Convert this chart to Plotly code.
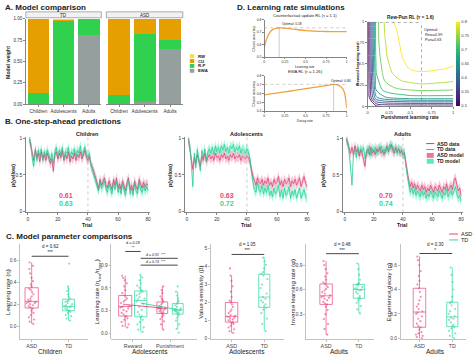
import numpy as np
import plotly.graph_objects as go

W, H = 474, 356
FONT = "Liberation Sans, Arial, sans-serif"
INK = "#222222"
ASD_LINE = "#D63A6E"
TD_LINE = "#22C994"
ASD_BAND = "rgba(242,110,155,0.40)"
TD_BAND = "rgba(70,235,180,0.45)"
ASD_PT = "#E8467C"
TD_PT = "#2ED6A0"

# ---------------- A. Model comparison ----------------
age_groups = ["Children", "Adolescents", "Adults"]
model_names = ["RW", "CU", "R-P", "EWA"]
td_rw = [0.000, 0.010, 0.000]
td_cu = [0.870, 0.015, 0.000]
td_rp = [0.130, 0.975, 0.190]
td_ewa = [0.000, 0.000, 0.810]
asd_rw = [0.000, 0.000, 0.006]
asd_cu = [0.894, 0.175, 0.245]
asd_rp = [0.106, 0.798, 0.103]
asd_ewa = [0.000, 0.027, 0.646]
model_colors = ["#F1DF45", "#E69F00", "#2FD14E", "#95A09E"]

# ---------------- D. Learning rate simulations ----------------
cf_learning_rate = [0, 0.025, 0.05, 0.075, 0.1, 0.14, 0.18, 0.25, 0.3, 0.4, 0.5, 0.6, 0.7, 0.8, 0.9, 1.0]
cf_accuracy = [0.585, 0.64, 0.68, 0.705, 0.72, 0.731, 0.735, 0.733, 0.729, 0.72, 0.712, 0.708, 0.706, 0.705, 0.704, 0.704]
ewa_decay = [0, 0.1, 0.2, 0.3, 0.4, 0.5, 0.6, 0.7, 0.8, 0.84, 0.9, 0.95, 0.975, 1.0]
ewa_accuracy = [0.583, 0.597, 0.611, 0.625, 0.640, 0.654, 0.668, 0.682, 0.697, 0.703, 0.692, 0.655, 0.600, 0.430]
grid_lr = [0.0, 0.1, 0.2, 0.3, 0.4, 0.5, 0.6, 0.7, 0.8, 0.9, 1.0]
rewpun_accuracy = [
    [0.50, 0.52, 0.53, 0.53, 0.53, 0.53, 0.53, 0.53, 0.53, 0.53, 0.53],
    [0.50, 0.62, 0.645, 0.655, 0.66, 0.665, 0.665, 0.665, 0.665, 0.665, 0.665],
    [0.50, 0.655, 0.685, 0.695, 0.70, 0.703, 0.706, 0.706, 0.705, 0.704, 0.703],
    [0.50, 0.665, 0.70, 0.715, 0.725, 0.73, 0.735, 0.735, 0.732, 0.73, 0.727],
    [0.50, 0.675, 0.71, 0.728, 0.74, 0.748, 0.749, 0.749, 0.748, 0.748, 0.747],
    [0.50, 0.68, 0.715, 0.735, 0.747, 0.754, 0.757, 0.757, 0.755, 0.753, 0.751],
    [0.50, 0.685, 0.72, 0.74, 0.75, 0.758, 0.762, 0.762, 0.76, 0.757, 0.754],
    [0.50, 0.688, 0.722, 0.742, 0.752, 0.76, 0.765, 0.765, 0.763, 0.76, 0.756],
    [0.50, 0.69, 0.724, 0.744, 0.754, 0.762, 0.767, 0.767, 0.765, 0.762, 0.758],
    [0.50, 0.69, 0.726, 0.746, 0.756, 0.764, 0.769, 0.769, 0.767, 0.763, 0.759],
    [0.50, 0.69, 0.728, 0.75, 0.758, 0.766, 0.771, 0.77, 0.768, 0.764, 0.76],
]
cbar_ticks = [0.5, 0.55, 0.6, 0.65, 0.7, 0.75, 0.8]

# ---------------- B. One-step-ahead predictions ----------------
trials = list(range(1, 81))
children_asd = [
    1.00, 0.90, 0.78, 0.70, 0.84, 0.74, 0.80, 0.68, 0.82, 0.72,
    0.78, 0.70, 0.80, 0.74, 0.66, 0.72, 0.55, 0.78, 0.82, 0.72,
    0.80, 0.74, 0.84, 0.70, 0.78, 0.72, 0.82, 0.68, 0.76, 0.72,
    0.80, 0.70, 0.78, 0.74, 0.82, 0.72, 0.78, 0.84, 0.74, 0.70,
    0.76, 0.64, 0.60, 0.54, 0.46, 0.40, 0.30, 0.44, 0.36, 0.40,
    0.46, 0.36, 0.32, 0.42, 0.36, 0.30, 0.44, 0.36, 0.46, 0.32,
    0.38, 0.30, 0.42, 0.34, 0.28, 0.40, 0.46, 0.30, 0.36, 0.28,
    0.42, 0.34, 0.30, 0.44, 0.36, 0.32, 0.40, 0.34, 0.38, 0.36]
children_td = [
    1.00, 0.94, 0.72, 0.62, 0.86, 0.70, 0.84, 0.76, 0.86, 0.70,
    0.82, 0.76, 0.84, 0.78, 0.70, 0.80, 0.66, 0.82, 0.88, 0.74,
    0.84, 0.78, 0.88, 0.72, 0.82, 0.80, 0.88, 0.74, 0.82, 0.78,
    0.86, 0.76, 0.84, 0.80, 0.90, 0.76, 0.84, 0.88, 0.78, 0.74,
    0.80, 0.62, 0.58, 0.50, 0.42, 0.36, 0.28, 0.40, 0.32, 0.36,
    0.42, 0.30, 0.26, 0.38, 0.30, 0.24, 0.40, 0.30, 0.42, 0.26,
    0.34, 0.24, 0.38, 0.28, 0.22, 0.36, 0.42, 0.24, 0.32, 0.22,
    0.38, 0.28, 0.24, 0.40, 0.30, 0.26, 0.36, 0.28, 0.34, 0.28]
adolescents_asd = [
    1.00, 0.88, 0.72, 0.58, 0.74, 0.66, 0.78, 0.70, 0.62, 0.76,
    0.70, 0.80, 0.68, 0.74, 0.78, 0.72, 0.76, 0.70, 0.80, 0.74,
    0.76, 0.70, 0.78, 0.74, 0.80, 0.72, 0.76, 0.70, 0.78, 0.74,
    0.80, 0.72, 0.76, 0.74, 0.78, 0.70, 0.76, 0.74, 0.72, 0.76,
    0.74, 0.68, 0.56, 0.48, 0.42, 0.36, 0.46, 0.40, 0.38, 0.44,
    0.36, 0.42, 0.38, 0.46, 0.36, 0.40, 0.34, 0.44, 0.38, 0.40,
    0.48, 0.36, 0.42, 0.34, 0.44, 0.38, 0.40, 0.46, 0.34, 0.42,
    0.38, 0.44, 0.36, 0.40, 0.46, 0.34, 0.42, 0.48, 0.38, 0.34]
adolescents_td = [
    1.00, 0.92, 0.68, 0.34, 0.80, 0.60, 0.86, 0.72, 0.56, 0.84,
    0.74, 0.86, 0.70, 0.82, 0.86, 0.80, 0.88, 0.78, 0.90, 0.82,
    0.88, 0.80, 0.90, 0.84, 0.92, 0.82, 0.88, 0.80, 0.90, 0.86,
    0.92, 0.82, 0.88, 0.84, 0.90, 0.80, 0.86, 0.84, 0.80, 0.86,
    0.82, 0.72, 0.52, 0.40, 0.30, 0.26, 0.40, 0.30, 0.26, 0.36,
    0.24, 0.32, 0.26, 0.36, 0.22, 0.28, 0.20, 0.32, 0.24, 0.28,
    0.36, 0.20, 0.30, 0.18, 0.32, 0.22, 0.26, 0.34, 0.18, 0.28,
    0.22, 0.30, 0.18, 0.26, 0.32, 0.18, 0.26, 0.30, 0.20, 0.18]
adults_asd = [
    1.00, 0.94, 0.86, 0.80, 0.88, 0.78, 0.90, 0.82, 0.86, 0.76,
    0.84, 0.80, 0.70, 0.62, 0.82, 0.86, 0.78, 0.88, 0.80, 0.84,
    0.78, 0.86, 0.82, 0.88, 0.80, 0.84, 0.78, 0.86, 0.90, 0.82,
    0.86, 0.92, 0.84, 0.80, 0.88, 0.82, 0.86, 0.80, 0.84, 0.78,
    0.80, 0.66, 0.52, 0.42, 0.34, 0.40, 0.32, 0.38, 0.30, 0.36,
    0.32, 0.28, 0.36, 0.30, 0.34, 0.26, 0.32, 0.28, 0.36, 0.30,
    0.26, 0.34, 0.30, 0.28, 0.36, 0.32, 0.26, 0.34, 0.30, 0.38,
    0.28, 0.32, 0.36, 0.30, 0.42, 0.46, 0.34, 0.28, 0.32, 0.22]
adults_td = [
    1.00, 0.96, 0.84, 0.62, 0.36, 0.80, 0.86, 0.74, 0.88, 0.80,
    0.86, 0.82, 0.88, 0.72, 0.84, 0.80, 0.90, 0.76, 0.86, 0.82,
    0.88, 0.80, 0.86, 0.84, 0.90, 0.82, 0.86, 0.80, 0.88, 0.84,
    0.92, 0.86, 0.90, 0.82, 0.88, 0.80, 0.86, 0.82, 0.84, 0.78,
    0.82, 0.62, 0.48, 0.34, 0.26, 0.32, 0.24, 0.30, 0.22, 0.28,
    0.24, 0.20, 0.28, 0.22, 0.26, 0.18, 0.24, 0.20, 0.28, 0.22,
    0.18, 0.26, 0.22, 0.20, 0.28, 0.24, 0.18, 0.26, 0.22, 0.30,
    0.20, 0.24, 0.28, 0.22, 0.30, 0.34, 0.24, 0.18, 0.22, 0.14]
fit_asd = ["0.61", "0.63", "0.70"]
fit_td = ["0.63", "0.72", "0.74"]
model_band_halfwidth = 0.07

# ---------------- C. Model parameter comparisons ----------------
lr_children_asd = [0.02, 0.04, 0.06, 0.08, 0.10, 0.12, 0.14, 0.16, 0.17, 0.18, 0.19, 0.20, 0.21, 0.21, 0.22, 0.22,
                   0.23, 0.24, 0.25, 0.27, 0.29, 0.31, 0.33, 0.34, 0.36, 0.38, 0.41, 0.44, 0.48, 0.52, 0.55, 0.58]
lr_children_td = [0.05, 0.07, 0.09, 0.10, 0.12, 0.13, 0.14, 0.14, 0.15, 0.16, 0.17, 0.17, 0.18, 0.18, 0.19, 0.20,
                  0.21, 0.22, 0.23, 0.23, 0.25, 0.27, 0.29, 0.32, 0.34, 0.36, 0.57]
lr_reward_asd = [0.08, 0.10, 0.12, 0.15, 0.18, 0.20, 0.22, 0.23, 0.25, 0.27, 0.29, 0.31, 0.33, 0.34, 0.35, 0.36,
                 0.38, 0.40, 0.42, 0.44, 0.46, 0.48, 0.50, 0.53, 0.57, 0.62, 0.66, 0.70, 0.73, 0.76]
lr_reward_td = [0.02, 0.05, 0.08, 0.12, 0.15, 0.18, 0.21, 0.23, 0.25, 0.28, 0.31, 0.35, 0.39, 0.42, 0.45, 0.46,
                0.48, 0.50, 0.52, 0.54, 0.55, 0.57, 0.60, 0.63, 0.66, 0.70, 0.74, 0.77]
lr_pun_asd = [0.05, 0.12, 0.16, 0.19, 0.22, 0.24, 0.26, 0.27, 0.28, 0.29, 0.30, 0.31, 0.32, 0.33, 0.33, 0.34,
              0.35, 0.36, 0.38, 0.40, 0.42, 0.44, 0.46, 0.49, 0.53, 0.57, 0.62]
lr_pun_td = [0.01, 0.06, 0.12, 0.17, 0.21, 0.24, 0.26, 0.27, 0.28, 0.29, 0.30, 0.30, 0.31, 0.31, 0.32, 0.33,
             0.35, 0.37, 0.39, 0.41, 0.43, 0.46, 0.50, 0.55, 0.62]
beta_adol_asd = [0.30, 0.40, 0.50, 0.60, 0.70, 0.80, 0.85, 0.90, 0.95, 1.00, 1.05, 1.10, 1.15, 1.20, 1.20, 1.25,
                 1.30, 1.40, 1.50, 1.60, 1.75, 1.90, 2.00, 2.10, 2.30, 2.60, 2.90, 3.20, 3.50, 3.90]
beta_adol_td = [0.40, 0.80, 1.10, 1.40, 1.60, 1.70, 1.80, 1.90, 2.00, 2.10, 2.20, 2.30, 2.50, 2.80, 3.00, 3.30,
                3.50, 3.60, 3.70, 3.90, 4.10, 4.30, 4.50]
phi_adult_asd = [0.05, 0.12, 0.18, 0.24, 0.30, 0.35, 0.39, 0.42, 0.43, 0.45, 0.47, 0.49, 0.50, 0.51, 0.52, 0.53,
                 0.55, 0.57, 0.59, 0.61, 0.63, 0.65, 0.67, 0.69, 0.72, 0.76, 0.80, 0.85, 0.90, 0.95]
phi_adult_td = [0.31, 0.36, 0.40, 0.44, 0.47, 0.49, 0.50, 0.52, 0.55, 0.57, 0.59, 0.60, 0.60, 0.61, 0.62, 0.63,
                0.65, 0.66, 0.67, 0.68, 0.72, 0.78, 0.85, 0.92]
rho_adult_asd = [0.00, 0.01, 0.02, 0.03, 0.04, 0.05, 0.07, 0.09, 0.10, 0.12, 0.14, 0.16, 0.18, 0.20, 0.21, 0.22,
                 0.24, 0.26, 0.28, 0.31, 0.34, 0.38, 0.41, 0.44, 0.47, 0.51, 0.55, 0.60, 0.64, 0.67]
rho_adult_td = [0.00, 0.02, 0.04, 0.06, 0.08, 0.09, 0.10, 0.11, 0.13, 0.15, 0.16, 0.17, 0.18, 0.20, 0.22, 0.24,
                0.27, 0.29, 0.30, 0.34, 0.40, 0.46, 0.52, 0.58]
effect_sizes = ["d = 0.62", "d = 0.28", "d = 0.92", "d = 0.74", "d = 1.05", "d = 0.48", "d = 0.30"]
significance = ["***", "**", "***", "***", "***", "***", "*"]

# ================= figure =================
fig = go.Figure()
axes = {}
shapes = []
annotations = []


def ref(i, c):
    return c if i == 1 else f"{c}{i}"


def key(i, c):
    return f"{c}axis" if i == 1 else f"{c}axis{i}"


def base_axis(col="#333333"):
    return dict(showgrid=False, zeroline=False, showline=True, linecolor=col, linewidth=0.6,
                ticks="outside", ticklen=2, tickwidth=0.6, tickcolor=col,
                tickfont=dict(size=5, color="#333333", family=FONT), fixedrange=True, tickangle=0)


def make_axes(i, l, r, t, b, xo=None, yo=None, col="#333333"):
    xd = base_axis(col)
    xd.update(domain=[l / W, r / W], anchor=ref(i, "y"))
    yd = base_axis(col)
    yd.update(domain=[1 - b / H, 1 - t / H], anchor=ref(i, "x"))
    if xo:
        xd.update(xo)
    if yo:
        yd.update(yo)
    axes[key(i, "x")] = xd
    axes[key(i, "y")] = yd


def ann(x, y, text, size=5, bold=False, color=INK, xanchor="center", yanchor="middle",
        angle=0, xref="paper", yref="paper", align="center"):
    if xref == "paper":
        x = x / W
    if yref == "paper":
        y = 1 - y / H
    t = f"<b>{text}</b>" if bold else text
    annotations.append(dict(x=x, y=y, xref=xref, yref=yref, text=t, showarrow=False,
                            font=dict(size=size, color=color, family=FONT), xanchor=xanchor,
                            yanchor=yanchor, textangle=angle, align=align, borderpad=0))


def rect_px(x0, y0, x1, y1, fill, line="rgba(0,0,0,0)", lw=0):
    shapes.append(dict(type="rect", xref="paper", yref="paper", x0=x0 / W, x1=x1 / W,
                       y0=1 - y1 / H, y1=1 - y0 / H, fillcolor=fill, line=dict(color=line, width=lw)))


def line_px(x0, y0, x1, y1, color, lw=1.0):
    shapes.append(dict(type="line", xref="paper", yref="paper", x0=x0 / W, x1=x1 / W,
                       y0=1 - y0 / H, y1=1 - y1 / H, line=dict(color=color, width=lw)))


# ----- Panel A -----
cat_x = dict(type="category", categoryorder="array", categoryarray=age_groups, range=[-0.5, 2.5],
             tickfont=dict(size=4.8, color="#333", family=FONT))
make_axes(1, 25, 101, 16, 103, xo=cat_x,
          yo=dict(range=[0, 1], tickvals=[0, 0.25, 0.5, 0.75, 1],
                  ticktext=["0.00", "0.25", "0.50", "0.75", "1.00"], tickfont=dict(size=4.5, color="#333")))
make_axes(2, 106, 183, 16, 103, xo=cat_x,
          yo=dict(range=[0, 1], showticklabels=False, showline=False, ticks=""))
td_sets = [td_ewa, td_rp, td_cu, td_rw]
asd_sets = [asd_ewa, asd_rp, asd_cu, asd_rw]
stack_names = ["EWA", "R-P", "CU", "RW"]
stack_cols = [model_colors[3], model_colors[2], model_colors[1], model_colors[0]]
for i, sets in ((1, td_sets), (2, asd_sets)):
    for name, vals, col in zip(stack_names, sets, stack_cols):
        fig.add_trace(go.Bar(x=age_groups, y=vals, name=name, marker=dict(color=col, line=dict(width=0)),
                             width=0.86, xaxis=ref(i, "x"), yaxis=ref(i, "y"), showlegend=False,
                             hoverinfo="skip"))
rect_px(25, 9, 101, 15, "#F2F2F2", "#7A7A7A", 0.6)
rect_px(106, 9, 183, 15, "#F2F2F2", "#7A7A7A", 0.6)
ann(63, 12.3, "TD", 4.5)
ann(144.5, 12.3, "ASD", 4.5)
ann(7, 60, "Model weight", 5.2, bold=True, angle=-90)
for k, (name, col) in enumerate(zip(model_names, model_colors)):
    yc = 54 + 5 * k
    rect_px(190, yc - 2, 194.5, yc + 2, col)
    ann(197, yc, name, 4.3, bold=True, xanchor="left")
ann(3, 4.5, "A. Model comparison", 8, bold=True, xanchor="left")

# ----- Panel D -----
lr_ticks = dict(range=[0, 1], tickvals=[0, 0.25, 0.5, 0.75, 1], ticktext=["0", "0.25", "0.5", "0.75", "1"],
                tickfont=dict(size=3.5, color="#333"), ticklen=1.5)
make_axes(3, 265, 348, 17, 55, xo=lr_ticks,
          yo=dict(range=[0.5, 0.8], tickvals=[0.5, 0.6, 0.7, 0.8], tickfont=dict(size=3.5, color="#333"), ticklen=1.5))
make_axes(4, 265, 348, 74, 110, xo=lr_ticks,
          yo=dict(range=[0.4, 0.8], tickvals=[0.4, 0.5, 0.6, 0.7, 0.8], tickfont=dict(size=3.5, color="#333"), ticklen=1.5))
for i, xs, ys in ((3, cf_learning_rate, cf_accuracy), (4, ewa_decay, ewa_accuracy)):
    j = int(np.argmax(ys))
    shapes.append(dict(type="line", xref=ref(i, "x"), yref=ref(i, "y"), x0=0, x1=1, y0=ys[j], y1=ys[j],
                       line=dict(color="#999", width=0.5, dash="dot")))
    shapes.append(dict(type="line", xref=ref(i, "x"), yref=ref(i, "y"), x0=xs[j], x1=xs[j],
                       y0=(0.5 if i == 3 else 0.4), y1=ys[j], line=dict(color="#999", width=0.5)))
    fig.add_trace(go.Scatter(x=xs, y=ys, mode="lines", line=dict(color="#F2A13B", width=1.3, shape="spline",
                             smoothing=0.6), xaxis=ref(i, "x"), yaxis=ref(i, "y"), showlegend=False,
                             hoverinfo="skip"))
ann(0.2, 0.742, "Optimal: 0.18", 3.3, xanchor="left", yanchor="bottom", xref="x3", yref="y3")
ann(0.8, 0.71, "Optimal: 0.84", 3.3, xanchor="left", yanchor="bottom", xref="x4", yref="y4")
ann(306, 12.5, "Counterfactual update RL (τ = 1.1)", 4.2)
ann(306, 70, "EWA RL (τ = 1.26)", 4.2)
ann(306, 64.8, "Learning rate", 3.3)
ann(306, 120.5, "Decay rate", 3.3)
ann(255, 36, "Choice accuracy", 3.5, angle=-90)
ann(255, 92, "Choice accuracy", 3.5, angle=-90)

make_axes(5, 369, 455, 19, 105,
          xo=dict(range=[0, 1], tickvals=[0, 0.25, 0.5, 0.75, 1], ticktext=["0", "0.25", "0.5", "0.75", "1"],
                  tickfont=dict(size=4, color="#333")),
          yo=dict(range=[0, 1], tickvals=[0, 0.25, 0.5, 0.75, 1], ticktext=["0", "0.25", "0.5", "0.75", "1"],
                  tickfont=dict(size=4, color="#333")))
fig.add_trace(go.Contour(x=grid_lr, y=grid_lr, z=rewpun_accuracy, autocontour=False,
                         contours=dict(coloring="lines", start=0.525, end=0.75, size=0.025),
                         line=dict(width=0.9), colorscale="Viridis", zmin=0.5, zmax=0.8,
                         showscale=False, xaxis="x5", yaxis="y5", hoverinfo="skip"))
fig.add_trace(go.Scatter(x=[None], y=[None], mode="markers", xaxis="x5", yaxis="y5", showlegend=False,
                         marker=dict(color=[0.5], cmin=0.5, cmax=0.8, colorscale="Viridis", showscale=True,
                                     colorbar=dict(x=458 / W, xanchor="left", y=1 - 62 / H, yanchor="middle",
                                                   lenmode="pixels", len=84, thickness=4, outlinewidth=0,
                                                   tickvals=cbar_ticks, ticktext=[str(t) for t in cbar_ticks],
                                                   tickfont=dict(size=4, color="#333"), ticks="", xpad=0,
                                                   ypad=0)),
                         hoverinfo="skip"))
shapes.append(dict(type="line", xref="x5", yref="y5", x0=0.63, x1=0.63, y0=0, y1=1,
                   line=dict(color="#777", width=0.6, dash="dot")))
shapes.append(dict(type="line", xref="x5", yref="y5", x0=0, x1=0.63, y0=0.99, y1=0.99,
                   line=dict(color="#777", width=0.6, dash="dot")))
ann(0.65, 0.94, "Optimal:<br> Rew=0.99<br> Pun=0.63", 3.8, xanchor="left", yanchor="top", xref="x5",
    yref="y5", align="left")
ann(412, 15, "Rew-Pun RL (τ = 1.6)", 4.8, bold=True)
ann(412, 116, "Punishment learning rate", 4.8, bold=True)
ann(359, 62, "Reward learning rate", 4.3, bold=True, angle=-90)
ann(236, 5, "D. Learning rate simulations", 8, bold=True, xanchor="left")

# ----- Panel B -----
b_panels = [(6, 25, 150, children_asd, children_td, "Children", 12, 65),
            (7, 185, 310, adolescents_asd, adolescents_td, "Adolescents", 170, 227),
            (8, 344, 465, adults_asd, adults_td, "Adults", 324, 387)]
for k, (i, l, r, asd, td, title, ytx, numx) in enumerate(b_panels):
    make_axes(i, l, r, 136, 213,
              xo=dict(range=[-1.3, 81.3], tickvals=[0, 20, 40, 60, 80], tickfont=dict(size=4.8, color="#333")),
              yo=dict(range=[-0.015, 1.027], tickvals=[0, 0.5, 1], ticktext=["0", "0.5", "1"],
                      tickfont=dict(size=4.8, color="#333")))
    shapes.append(dict(type="line", xref=ref(i, "x"), yref=ref(i, "y") + " domain", x0=40, x1=40, y0=0, y1=1,
                       line=dict(color="#AAAAAA", width=0.6, dash="dot")))
    for vals, band in ((asd, ASD_BAND), (td, TD_BAND)):
        up = [v + model_band_halfwidth for v in vals]
        lo = [v - model_band_halfwidth for v in vals]
        fig.add_trace(go.Scatter(x=trials + trials[::-1], y=up + lo[::-1], fill="toself", fillcolor=band,
                                 mode="lines", line=dict(width=0), xaxis=ref(i, "x"), yaxis=ref(i, "y"),
                                 showlegend=False, hoverinfo="skip"))
    for vals, col in ((asd, ASD_LINE), (td, TD_LINE)):
        fig.add_trace(go.Scatter(x=trials, y=vals, mode="lines", line=dict(color=col, width=0.7),
                                 xaxis=ref(i, "x"), yaxis=ref(i, "y"), showlegend=False, hoverinfo="skip"))
    cx = (l + r) / 2
    ann(cx, 133.5, title, 5.5, bold=True)
    ann(cx, 225.5, "Trial", 5.0, bold=True)
    ann(ytx, 175, "p(yellow)", 5.3, bold=True, angle=-90)
    ann(numx, 196, fit_asd[k], 7, bold=True, color=ASD_PT)
    ann(numx, 204, fit_td[k], 7, bold=True, color=TD_PT)
legend_b = [("ASD data", "line", ASD_LINE), ("TD data", "line", TD_LINE),
            ("ASD model", "box", "rgba(242,90,140,0.85)"), ("TD model", "box", "rgba(60,230,175,0.85)")]
for k, (lab, kind, col) in enumerate(legend_b):
    yc = 143 + 6 * k
    if kind == "line":
        line_px(428, yc, 436, yc, col, 1.0)
    else:
        rect_px(428.5, yc - 2.5, 435.5, yc + 2.5, col)
    ann(438, yc, lab, 5, bold=True, xanchor="left")
ann(3, 120.5, "B. One-step-ahead predictions", 8, bold=True, xanchor="left")

# ----- Panel C -----
GRAY = "#9A9A9A"
C_TOP, C_BOT = 245, 342


def c_axes(i, l, r, xr, yr, yt, ytt, xt, xtt):
    make_axes(i, l, r, C_TOP, C_BOT,
              xo=dict(range=xr, tickvals=xt, ticktext=xtt, tickfont=dict(size=5.3, color="#444")),
              yo=dict(range=yr, tickvals=yt, ticktext=ytt, tickfont=dict(size=4.8, color="#444")),
              col=GRAY)


def add_box(i, pos, vals, col, width):
    fig.add_trace(go.Box(x=[pos] * len(vals), y=vals, width=width, boxpoints="all", jitter=0.75, pointpos=0,
                         whiskerwidth=0, marker=dict(color=col, size=2.2, opacity=0.6),
                         line=dict(color=col, width=0.7), fillcolor="rgba(255,255,255,0)",
                         xaxis=ref(i, "x"), yaxis=ref(i, "y"), showlegend=False, hoverinfo="skip"))


def bracket(i, x0, x1, y, d, s, size=4.5, sep="<br>", tx=None):
    shapes.append(dict(type="line", xref=ref(i, "x"), yref=ref(i, "y"), x0=x0, x1=x1, y0=y, y1=y,
                       line=dict(color="#333", width=0.9)))
    ann((x0 + x1) / 2 if tx is None else tx, y, f"{d}{sep}{s}", size, xanchor="center", yanchor="bottom",
        xref=ref(i, "x"), yref=ref(i, "y"))


c_axes(9, 19, 88, [-0.32, 1.54], [-0.12, 0.75], [0, 0.2, 0.4, 0.6], ["0.0", "0.2", "0.4", "0.6"],
       [0, 1], ["ASD", "TD"])
add_box(9, 0, lr_children_asd, ASD_PT, 0.36)
add_box(9, 1, lr_children_td, TD_PT, 0.32)
bracket(9, 0, 1, 0.637, effect_sizes[0], significance[0])

c_axes(10, 111, 197, [-0.9, 4.63], [-0.076, 1.18], [0, 0.3, 0.6, 0.9], ["0.0", "0.3", "0.6", "0.9"],
       [0.5, 2.9], ["Reward", "Punishment"])
add_box(10, 0, lr_reward_asd, ASD_PT, 0.85)
add_box(10, 1, lr_reward_td, TD_PT, 0.8)
add_box(10, 2.4, lr_pun_asd, ASD_PT, 0.7)
add_box(10, 3.4, lr_pun_td, TD_PT, 0.7)
fig.add_trace(go.Scatter(x=[0, 2.4], y=[float(np.mean(lr_reward_asd)), float(np.mean(lr_pun_asd))],
                         mode="lines", line=dict(color=ASD_PT, width=0.9), xaxis="x10", yaxis="y10",
                         showlegend=False, hoverinfo="skip"))
fig.add_trace(go.Scatter(x=[1, 3.4], y=[float(np.mean(lr_reward_td)), float(np.mean(lr_pun_td))],
                         mode="lines", line=dict(color=TD_PT, width=0.9), xaxis="x10", yaxis="y10",
                         showlegend=False, hoverinfo="skip"))
bracket(10, 0, 1, 1.08, effect_sizes[1], significance[1], 3.8)
bracket(10, 1, 3.4, 0.99, effect_sizes[2], significance[2], 3.6, sep="  ", tx=2.0)
bracket(10, 1, 3.4, 0.90, effect_sizes[3], significance[3], 3.6, sep="  ", tx=2.0)

c_axes(11, 211, 285, [-0.64, 1.61], [-0.054, 5.27], [0, 1, 2, 3, 4, 5], ["0", "1", "2", "3", "4", "5"],
       [0, 1], ["ASD", "TD"])
add_box(11, 0, beta_adol_asd, ASD_PT, 0.38)
add_box(11, 1, beta_adol_td, TD_PT, 0.34)
bracket(11, 0, 1, 4.68, effect_sizes[4], significance[4])

c_axes(12, 307, 375, [-0.61, 1.45], [-0.006, 1.16], [0.3, 0.6, 0.9], ["0.3", "0.6", "0.9"],
       [0, 1], ["ASD", "TD"])
add_box(12, 0, phi_adult_asd, ASD_PT, 0.38)
add_box(12, 1, phi_adult_td, TD_PT, 0.34)
bracket(12, 0, 1, 1.04, effect_sizes[5], significance[5])

c_axes(13, 402, 468, [-0.58, 1.42], [-0.008, 0.774], [0, 0.2, 0.4, 0.6], ["0.0", "0.2", "0.4", "0.6"],
       [0, 1], ["ASD", "TD"])
add_box(13, 0, rho_adult_asd, ASD_PT, 0.38)
add_box(13, 1, rho_adult_td, TD_PT, 0.34)
bracket(13, 0, 1, 0.695, effect_sizes[6], significance[6])

for x, t in ((6, "Learning rate (η)"), (97, "Learning rate (η<sub>rew</sub>/η<sub>pun</sub>)"),
             (200, "Value sensitivity (β)"), (293, "Inverse learning rate (φ)"), (390, "Experience decay (ρ)")):
    ann(x, 294, t, 6.2, angle=-90)
for x, t in ((50, "Children"), (150, "Adolescents"), (248, "Adolescents"), (341, "Adults"), (437, "Adults")):
    ann(x, 354.5, t, 6.5)
line_px(451, 235, 460, 235, ASD_PT, 1.0)
line_px(451, 241, 460, 241, TD_PT, 1.0)
ann(462, 235, "ASD", 5.5, xanchor="left")
ann(462, 241, "TD", 5.5, xanchor="left")
ann(4, 237, "C. Model parameter comparisons", 8, bold=True, xanchor="left")

fig.update_layout(width=W, height=H, margin=dict(l=0, r=0, t=0, b=0), autosize=False,
                  paper_bgcolor="white", plot_bgcolor="white", barmode="stack", showlegend=False,
                  font=dict(family=FONT, size=5, color=INK), shapes=shapes, annotations=annotations,
                  boxmode="overlay", **axes)
fig.write_html("out.html", include_plotlyjs=True, config={"displayModeBar": False, "staticPlot": True},
               post_script="document.body.style.margin='0px';document.body.style.padding='0px';"
                           "document.documentElement.style.overflow='hidden';")
